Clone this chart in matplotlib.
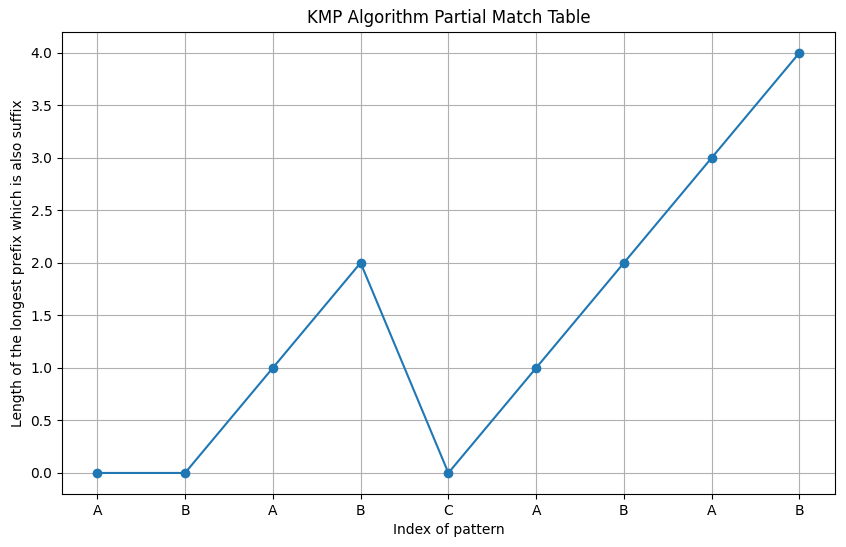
import numpy as np
import matplotlib.pyplot as plt

pattern = ['A', 'B', 'A', 'B', 'C', 'A', 'B', 'A', 'B']
lps = [0, 0, 1, 2, 0, 1, 2, 3, 4]

fig = plt.figure(figsize=(8.46, 5.47), dpi=100)
ax = fig.add_axes([0.0735, 0.097, 0.913, 0.845])
x = np.arange(len(pattern))
ax.plot(x, lps, marker='o')
ax.set_xticks(x)
ax.set_xticklabels(pattern)
ax.set_title('KMP Algorithm Partial Match Table')
ax.set_xlabel('Index of pattern')
ax.set_ylabel('Length of the longest prefix which is also suffix')
ax.grid(True)
fig.savefig('out.png', dpi=100)
